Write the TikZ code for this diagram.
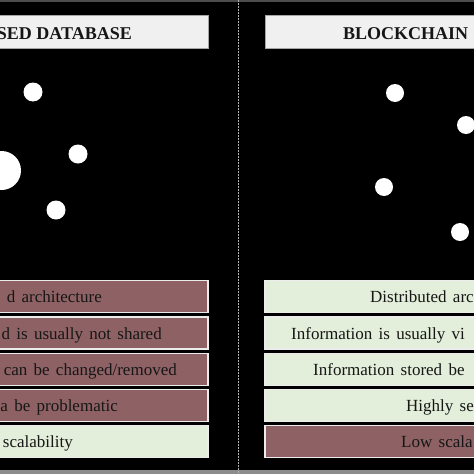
\documentclass[tikz,border=0pt]{standalone}
\usepackage{fontspec}
\setmainfont{Liberation Serif}
\definecolor{mauve}{HTML}{8E6264}
\definecolor{lgreen}{HTML}{E3EFDA}
\definecolor{titlebg}{HTML}{F0F0F0}
\definecolor{txt}{HTML}{161616}
\newcommand{\wsp}{\spaceskip=0.37em plus 0.1em\relax}
\begin{document}
\begin{tikzpicture}[x=1pt,y=-1pt,
  titlebox/.style={draw=gray!70, line width=0.8pt, fill=titlebg, inner sep=0pt, minimum height=33pt},
  rowbox/.style={draw=white!85!gray, line width=1.2pt, inner sep=0pt, minimum height=32pt},
  badrow/.style={rowbox, fill=mauve},
  goodrow/.style={rowbox, fill=lgreen},
  rowtext/.style={font=\fontsize{17}{19}\selectfont\wsp, text=txt, inner sep=0pt},
  titletext/.style={font=\fontsize{18}{20}\selectfont\bfseries, text=txt, inner sep=0pt},
  dot/.style={circle, fill=white, inner sep=0pt}]
\path[use as bounding box, fill=black] (0,0) rectangle (474,474);
\fill[black!70] (0,0) rectangle (474,2);
\fill[black!45] (0,470) rectangle (474,474);
\coordinate (dtop) at (238.5,0);
\coordinate (dbot) at (238.5,474);
\draw[black!30, line width=1.4pt, dash pattern=on 2pt off 1pt] (dtop) -- (dbot);

% title boxes
\node[titlebox, minimum width=218pt] (tl) at (99,31.5) {};
\node[titlebox, minimum width=219pt] (tr) at (374.5,31.5) {};
\node[titletext, anchor=base east] (tlt) at (132,39) {SED DATABASE};
\node[titletext, anchor=base west] (trt) at (343,39) {BLOCKCHAIN};

% dots left
\node[dot, minimum size=19pt] (c1) at (33,92) {};
\node[dot, minimum size=19pt] (c2) at (78,154) {};
\node[dot, minimum size=39pt] (c3) at (1.5,170.5) {};
\node[dot, minimum size=19pt] (c4) at (56,210) {};
% dots right
\node[dot, minimum size=18pt] (d1) at (395,93) {};
\node[dot, minimum size=18pt] (d2) at (466,125) {};
\node[dot, minimum size=18pt] (d3) at (384,187) {};
\node[dot, minimum size=18pt] (d4) at (460,232) {};

% left rows
\node[badrow, minimum width=218pt] (l1) at (99,296.5) {};
\node[badrow, minimum width=218pt] (l2) at (99,333) {};
\node[badrow, minimum width=218pt] (l3) at (99,369.5) {};
\node[badrow, minimum width=218pt] (l4) at (99,405.5) {};
\node[goodrow, minimum width=218pt] (l5) at (99,441.5) {};
% right rows
\node[goodrow, minimum width=219pt] (r1) at (374.5,296.5) {};
\node[goodrow, minimum width=219pt] (r2) at (374.5,333) {};
\node[goodrow, minimum width=219pt] (r3) at (374.5,369.5) {};
\node[goodrow, minimum width=219pt] (r4) at (374.5,405.5) {};
\node[badrow, minimum width=219pt] (r5) at (374.5,441.5) {};

% left texts
\node[rowtext, anchor=base east] (lt1) at (102,302.5) {d architecture};
\node[rowtext, anchor=base east] (lt2) at (162,339) {d is usually not shared};
\node[rowtext, anchor=base east] (lt3) at (177,375.5) {can be changed/removed};
\node[rowtext, anchor=base east] (lt4) at (118,411.5) {a be problematic};
\node[rowtext, anchor=base east] (lt5) at (73,447.5) {scalability};
% right texts
\node[rowtext, anchor=base west] (rt1) at (370,302.5) {Distributed arc};
\node[rowtext, anchor=base west] (rt2) at (291,339) {Information is usually vi};
\node[rowtext, anchor=base west] (rt3) at (313,375.5) {Information stored be};
\node[rowtext, anchor=base west] (rt4) at (406,411.5) {Highly se};
\node[rowtext, anchor=base west] (rt5) at (401,447.5) {Low scala};
\end{tikzpicture}
\end{document}
